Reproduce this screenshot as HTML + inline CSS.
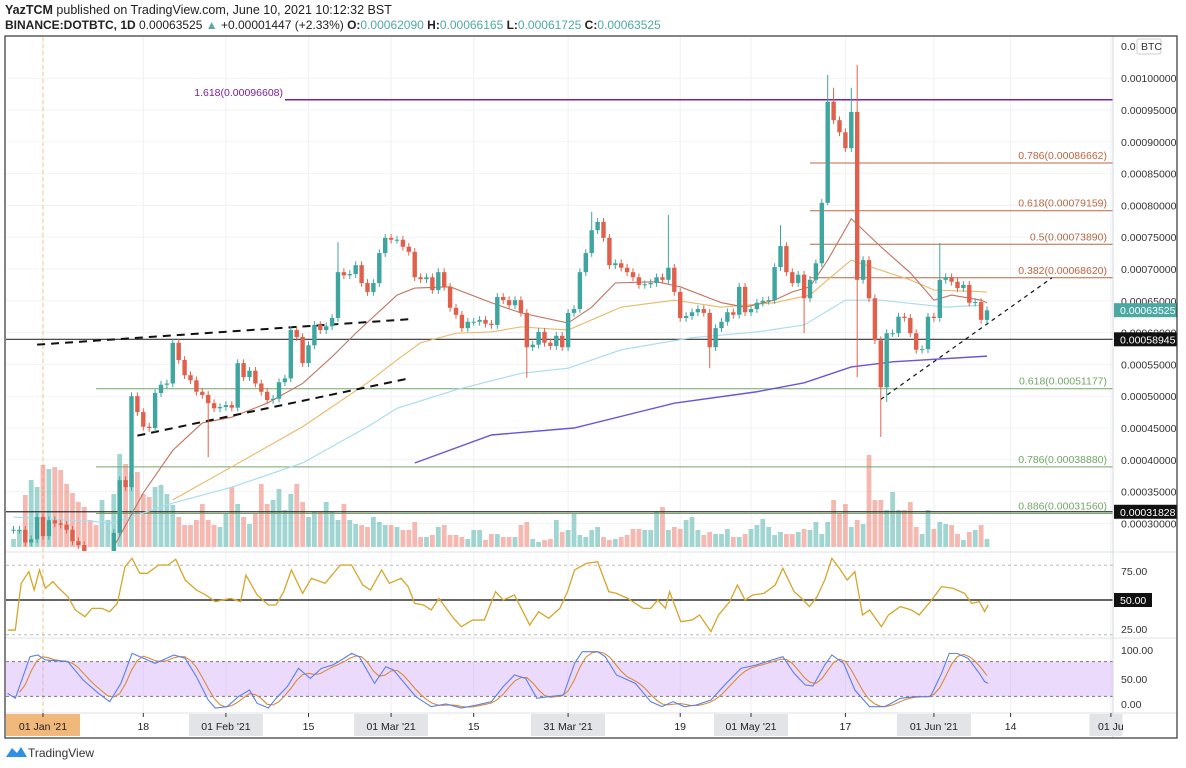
<!DOCTYPE html>
<html><head><meta charset="utf-8"><style>
html,body{margin:0;padding:0;background:#fff;width:1186px;height:768px;overflow:hidden}
svg{display:block;font-family:"Liberation Sans",sans-serif}
</style></head><body>
<svg id="c" width="1186" height="768" viewBox="0 0 1186 768">
<text x="5" y="14" font-size="12.5" fill="#222"><tspan font-weight="bold">YazTCM</tspan> published on TradingView.com, June 10, 2021 10:12:32 BST</text>
<text x="5" y="29" font-size="12" fill="#222"><tspan font-weight="bold">BINANCE:DOTBTC, 1D</tspan> 0.00063525 <tspan fill="#5aa9a4">▲</tspan> +0.00001447 (+2.33%) <tspan font-weight="bold">O:</tspan><tspan fill="#4fa9a3">0.00062090</tspan> <tspan font-weight="bold">H:</tspan><tspan fill="#4fa9a3">0.00066165</tspan> <tspan font-weight="bold">L:</tspan><tspan fill="#4fa9a3">0.00061725</tspan> <tspan font-weight="bold">C:</tspan><tspan fill="#4fa9a3">0.00063525</tspan></text>
<g id="grid"></g>
<g id="price"></g>
<g id="rsi"></g>
<g id="stoch"></g>
<g id="axes"></g>
<rect x="5" y="36" width="1172" height="702" fill="none" stroke="#333" stroke-width="1.2"/>
<g><path d="M6 757 L12 748 L17 753 L21 747 L27 757 Z" fill="#2f8fe6"/><text x="28" y="757" font-size="12" fill="#333">TradingView</text></g>
</svg>
<script>
// ===== DATA =====
// daily closes in units of 1e-5 BTC, first day = 27 Dec 2020 (day -5)
const firstDay = -5;
const closes = [29,29,27,27.5,31,28,30.5,30,29.8,29,27.2,26.6,24,23,22,23,25,
28.5,36.8,35.7,50,47.5,45.2,45,50.5,51.8,52,58.4,55.7,53.3,52.5,50.7,50.2,48.9,48.1,48.3,48.6,48.2,55.2,53,54,52,50.7,49.4,49.6,52.2,52.8,60.4,59.3,55.2,58,61.2,60.4,61,62.3,69.5,69,69.2,70.6,67.8,66.4,67.8,72.5,74.9,
74.6,74.6,73.5,72.7,68.7,68.4,68.7,66.7,69.5,67.2,63.9,62.8,60.7,61.7,61.7,62.0,61.4,61.2,65.6,65.1,64.3,65.1,63.1,57.7,58.1,60.1,58.4,57.9,59.5,57.7,63.1,63.7,69.5,72.5,76.1,77.4,74.9,70.6,70.9,70.2,69.5,68.7,67.5,67.6,67.8,68.7,68.3,70.2,66.4,62.3,62.6,63.2,63.7,63.1,57.7,60.7,61.7,63.2,62.8,67.2,63.2,63.7,64.7,65.0,65.1,70.3,73.6,69.5,67.8,69.1,65.4,
68.3,70.9,80.4,96.3,93.4,91.5,89.0,94.7,68.3,71.4,65.4,58.8,51.4,59.9,59.9,62.5,62.3,59.9,57.3,57.4,62.5,62.3,68.3,68.7,68.0,67.0,67.5,64.7,64.8,62.0,63.5];
const volumes = [8,17,52,67,60,82,78,80,77,63,54,45,40,27,22,47,27,53,93,83,73,75,53,50,60,62,53,42,30,22,22,27,43,27,22,20,33,60,43,30,23,33,63,43,47,58,37,53,63,45,30,35,35,45,35,27,43,27,23,22,20,30,25,22,
22,20,17,17,25,10,10,12,20,22,12,12,10,8,17,17,7,13,13,10,10,10,22,25,8,5,7,8,27,15,17,33,12,10,17,20,10,7,8,10,12,18,18,17,17,35,40,17,20,18,27,30,17,12,15,13,13,18,10,10,13,18,22,28,20,12,15,13,13,15,18,
17,25,13,25,47,33,43,20,27,23,92,47,47,37,55,37,37,45,20,13,37,18,25,23,22,13,7,15,17,22,8];
const wickDays = [133,134,137,138,142,143,152,93,106,82,113,28,50,125,129];
const wickHighs = [100.5,98.5,98.5,102.1,null,null,74.1,79,78.5,null,null,null,74.2,76.9,null];
const wickLows  = [80,null,null,53,43.6,49.1,null,null,null,52.9,54.4,40.4,null,null,59.9];
// moving averages [day, value 1e-5 BTC]
const emaFastDays = [12,17,22,27,32,38,44,49,53,60,63,69,76,81,89,93,97,104,108,115,119,124,127,130,133,137,142,147,151,154,159,160];
const emaFastVals = [26.3,34.8,41.5,45.8,46.7,48.9,52.0,56.2,59.9,65.9,67.0,67.2,64.7,63.1,61.5,64.0,67.8,68.0,67.2,64.7,64.0,65.1,66.4,67.2,71.4,77.9,73.5,69.4,65.1,65.9,65.1,64.7];
const emaMidDays = [22,32,44,55,60,64,70,76,81,89,98,107,115,124,130,133,137,142,147,151,160];
const emaMidVals = [33.7,38.9,45.2,52.1,55.7,58.4,59.9,60.1,60.9,60.4,64.0,65.1,64.0,64.7,65.9,68.3,71.4,69.8,68.3,66.7,66.4];
const emaSlowDays = [-5,12,22,32,44,55,60,70,81,89,98,110,121,129,136,142,153,159];
const emaSlowVals = [31.0,30.1,33.2,35.7,39.5,45.2,48.1,51.0,53.6,54.4,57.3,59.2,60.1,61.2,65.1,65.1,64.0,64.3];
const ma200Days = [63,76,90,107,121,129,137,144,160];
const ma200Vals = [39.5,43.9,45.0,48.9,50.7,52.1,54.6,55.4,56.3];
// RSI
const rsiDays = [-6,-4.7,-3.7,-2.4,-1.5,-0.6,0.4,1.7,2.7,4.2,5.5,7.1,8.3,10,11.3,12.6,13.9,15.1,16.4,17.7,19.6,21.2,22.5,24.1,26,27.6,29.2,30.5,31.8,33.5,34.4,36.3,38.2,39.5,40.8,42.1,44,45.5,47.8,50.4,52.3,54.2,55.5,57.4,58.7,60.7,61.9,63,64.5,65.8,67.1,69.6,70.9,72.8,74.8,76.7,78,79.9,81.2,82.5,84,85.7,87.6,88.9,90.1,92.1,94,95.9,97.2,99.1,101.7,103,104.2,105.5,106.2,108.1,110,111.3,113.2,114.5,116.4,117.7,119,120.3,122.2,124.1,125.4,127.3,128.6,129.9,131.2,132.5,133.7,135,136.3,137.6,138.9,140.1,142.1,143.3,145.3,147.2,148.5,150.4,152.3,154.2,156.2,157.4,158.7,159.6,160.2];
const rsiVals = [24.1,24.1,64.4,74.4,58.6,75.9,60.1,65.8,60.1,52.9,41.4,35.6,42.8,42.8,39.9,47.1,78.7,85.9,73,73,80.2,80.2,85.1,67.2,58.6,54.3,48.6,50,51.4,48.6,71.5,54.3,45.7,45.7,57.2,75.9,55.7,68.7,64.4,80.2,80.2,62.9,58.6,75.9,64.4,68.7,61.5,47.1,45.7,41.4,51.4,34.2,27,32.7,32.7,57.2,50,54.3,41.4,28.4,39.9,34.2,42.8,57.2,75.9,81.6,83,57.2,55.7,51.4,42.8,42.8,50,42.8,57.2,31.3,32.7,37.1,22.7,37.1,48.6,62.9,50,54.3,55.7,62.9,77.3,57.2,51.4,44.3,52.9,67.2,85.9,77.3,67.2,74.4,37.1,41.4,27,37.1,44.3,41.4,37.1,48.6,61.5,60.1,55.7,47.1,48.6,40,45.7];
// Stoch RSI %K
const kDays = [-6,-4.7,-2.2,-0.9,0.4,4.2,6.8,9.4,11.3,13.2,15.1,17.1,19,22.2,24.1,26,28,29.2,31.2,33.1,35,36.3,38.2,39.5,41.4,43.3,45.3,47.2,49.1,51,52.3,53.6,56.2,58.1,59.4,61.3,63.2,65.8,68.3,70.9,73.5,76,78,79.9,81.8,83.7,85.7,88.2,90.1,91.4,94,95.3,97.2,100.4,103,104.9,106.8,108.7,110.7,113.2,115.8,118.3,120.9,123.5,125.4,127.3,129.2,130.5,132.5,133.7,135.7,137.6,140.1,142.7,145.3,147.8,150.4,152.3,153.6,154.9,156.8,158.7,159.6,160.2];
const kVals = [25.3,16.7,88.5,91.4,82.8,79.9,48.3,25.3,10.9,42.5,94.2,85.6,77,91.4,85.6,54,13.8,0,2.3,19.5,31,8,0,16.7,36.8,68.4,51.1,68.4,74.1,85.6,94.2,88.5,42.5,71.2,65.5,42.5,19.5,2.3,6.9,0,5.2,10.9,36.8,56.9,51.1,16.7,19.5,22.4,77,97.1,97.1,88.5,56.9,42.5,10.9,2.3,10.9,2.3,5.2,13.8,42.5,68.4,74.1,82.8,88.5,59.8,39.6,38,74.1,91.4,77,31,2.3,2.3,16.7,19.5,19.5,59.8,94.2,94.2,85.6,59.8,45.4,42.5];
const priceTicks = [100,95,90,85,80,75,70,65,60,55,50,45,40,35,30];
const timeTickDays = [0,17,31,45,59,73,89,108,120,136,151,164,181];
const timeTickLabels = ["01 Jan '21","18","01 Feb '21","15","01 Mar '21","15","31 Mar '21","19","01 May '21","17","01 Jun '21","14","01 Ju"];
const timeTickBoxed = [2,0,1,0,1,0,1,0,1,0,1,0,1];
const fibPrice = [96.608,86.662,79.159,73.890,68.620,51.177,38.880,31.560];
const fibLabel = ["1.618(0.00096608)","0.786(0.00086662)","0.618(0.00079159)","0.5(0.00073890)","0.382(0.00068620)","0.618(0.00051177)","0.786(0.00038880)","0.886(0.00031560)"];
const fibStartDay = [41,130,130,130,130,9,9,9];
const fibColor = ["#7b1fa2","#c0653f","#c0653f","#b06a45","#c0653f","#73a866","#73a866","#73a866"];
const rsiTicks = [75,50,25];
const stochTicks = [100,50,0];

// ===== AXES =====
const NS="http://www.w3.org/2000/svg";
const plotL=6, plotR=1113;
const X = d => 43 + d*5.9;
const PY = p => 110 + (95 - p)*6.36;
const VY = v => 547 - v;
const RY = v => 600 - (v-50)*1.16;
const SY = v => 708 - v*0.58;
function mk(tag, attrs, parent){const e=document.createElementNS(NS,tag);for(const k in attrs)e.setAttribute(k,attrs[k]);parent.appendChild(e);return e;}
const gGrid=document.getElementById('grid'),gP=document.getElementById('price'),gR=document.getElementById('rsi'),gS=document.getElementById('stoch'),gA=document.getElementById('axes');

// clip path
const defs=mk('defs',{},document.getElementById('c'));
const cp=mk('clipPath',{id:'pclip'},defs);mk('rect',{x:6,y:37,width:1107,height:514},cp);

// grid
timeTickDays.forEach(d=>{const l=mk('line',{x1:X(d),x2:X(d),y1:37,y2:713,stroke:'#eef0f4','stroke-width':1},gGrid);

});
priceTicks.forEach(p=>{const l=mk('line',{x1:plotL,x2:plotR,y1:PY(p),y2:PY(p),stroke:'#f1f3f6'},gGrid);

});
mk('line',{x1:X(0),x2:X(0),y1:37,y2:713,stroke:'#f0c48a','stroke-dasharray':'4,3'},gGrid);

const gPc=mk('g',{'clip-path':'url(#pclip)'},gP);
// volume
volumes.forEach((v,i)=>{const c=closes[i],o=i?closes[i-1]:c;const up=c>=o;
const r=mk('rect',{x:X(firstDay+i)-2.4,y:VY(v),width:4.8,height:v,fill:up?'rgba(84,178,172,0.55)':'rgba(236,128,114,0.55)'},gPc);

});

// fib & horizontal lines
fibPrice.forEach((p,i)=>{const l=mk('line',{x1:X(fibStartDay[i]),x2:plotR,y1:PY(p),y2:PY(p),stroke:fibColor[i],'stroke-width':i==0?1.5:1},gPc);


const t=mk('text',{x:i==0?283:1107,y:PY(p)-4,'font-size':10.5,fill:fibColor[i],'text-anchor':'end'},gP);t.textContent=fibLabel[i];

});
[58.945,31.828].forEach(p=>{const l=mk('line',{x1:plotL,x2:plotR,y1:PY(p),y2:PY(p),stroke:'#333','stroke-width':1.2},gPc);

});

// moving averages
function ma(days,vals,color,w,name){const pts=days.map((d,i)=>X(d)+','+PY(vals[i])).join(' ');
const l=mk('polyline',{points:pts,fill:'none',stroke:color,'stroke-width':w},gPc);

}
ma(emaSlowDays,emaSlowVals,'#a9dcef',1.2,'ema-100-line');
ma(emaMidDays,emaMidVals,'#e8b968',1.1,'ema-50-line');
ma(emaFastDays,emaFastVals,'#c0735e',1.1,'ema-20-line');
ma(ma200Days,ma200Vals,'#6a55d8',1.4,'ma-200-line');

// trendlines (in data coordinates: day, price)
[[[-1,58.1],[62,62.1]],[[16,43.8],[62,52.8]],[[142,49.5],[171,68.6]]].forEach((s,i)=>{
const l=mk('line',{x1:X(s[0][0]),y1:PY(s[0][1]),x2:X(s[1][0]),y2:PY(s[1][1]),stroke:'#111','stroke-width':i<2?2:1.2,'stroke-dasharray':i<2?'8,6':'4,4'},gPc);

});

// candles
closes.forEach((c,i)=>{const d=firstDay+i;const o=i?closes[i-1]:c;const up=c>=o;
const wi=wickDays.indexOf(d);
let hi=Math.max(o,c)+0.6, lo=Math.min(o,c)-0.6;
if(wi>=0){if(wickHighs[wi]!=null)hi=wickHighs[wi];if(wickLows[wi]!=null)lo=wickLows[wi];}
const col=up?'#3ea59f':'#e0604b';
const x=X(d);
const w=mk('line',{x1:x,x2:x,y1:PY(hi),y2:PY(lo),stroke:col,'stroke-width':1},gPc);


const y1=PY(Math.max(o,c)),y2=PY(Math.min(o,c));
const b=mk('rect',{x:x-2.2,y:y1,width:4.4,height:Math.max(1,y2-y1),fill:col},gPc);

});

// pane separators
[552,638,713].forEach(y=>mk('line',{x1:5,x2:1177,y1:y,y2:y,stroke:'#dde0e6'},gA));
mk('line',{x1:plotR,x2:plotR,y1:36,y2:738,stroke:'#d4d7de'},gA);

// price axis labels
priceTicks.forEach(p=>{if(p>=100)return;const t=mk('text',{x:1121,y:PY(p)+4,'font-size':10.5,fill:'#333'},gA);t.textContent='0.000'+String(p*1000).padStart(5,'0');

});
{const t=mk('text',{x:1121,y:PY(100)+4,'font-size':10.5,fill:'#333'},gA);t.textContent='0.00100000';


const t2=mk('text',{x:1121,y:50,'font-size':10.5,fill:'#333'},gA);t2.textContent='0.0      000';
mk('rect',{x:1137,y:39,width:24,height:15,rx:2,fill:'#fff',stroke:'#ccc'},gA);
const t3=mk('text',{x:1141,y:50,'font-size':10.5,fill:'#333'},gA);t3.textContent='BTC';

}
[[63.525,'#4aa9a3','0.00063525'],[58.945,'#111','0.00058945'],[31.828,'#111','0.00031828']].forEach(a=>{
const r=mk('rect',{x:1114,y:PY(a[0])-7,width:63,height:14,fill:a[1]},gA);


const t=mk('text',{x:1120,y:PY(a[0])+4,'font-size':10.5,fill:'#fff'},gA);t.textContent=a[2];});

// RSI pane
[80,20].forEach(v=>mk('line',{x1:plotL,x2:plotR,y1:RY(v),y2:RY(v),stroke:'#bbb','stroke-dasharray':'3,3'},gR));
mk('line',{x1:plotL,x2:plotR,y1:RY(50),y2:RY(50),stroke:'#333','stroke-width':1.5},gR);
{const l=mk('polyline',{points:rsiDays.map((d,i)=>X(d)+','+RY(rsiVals[i])).join(' '),fill:'none',stroke:'#d4a62a','stroke-width':1.3},gR);

}
rsiTicks.forEach(v=>{if(v==50){mk('rect',{x:1114,y:RY(50)-7,width:38,height:14,fill:'#111'},gR);const t=mk('text',{x:1120,y:RY(50)+4,'font-size':10.5,fill:'#fff'},gR);t.textContent='50.00';return;}
const t=mk('text',{x:1121,y:RY(v)+4,'font-size':10.5,fill:'#333'},gR);t.textContent=v.toFixed(2);

});

// Stoch RSI pane
mk('rect',{x:plotL,y:SY(80),width:plotR-plotL,height:SY(20)-SY(80),fill:'rgba(200,150,250,0.35)'},gS);
[80,20].forEach(v=>mk('line',{x1:plotL,x2:plotR,y1:SY(v),y2:SY(v),stroke:'#777','stroke-dasharray':'3,3'},gS));
// %D = 3-day SMA of %K on daily grid
function kAt(d){for(let i=1;i<kDays.length;i++){if(d<=kDays[i]){const t=(d-kDays[i-1])/(kDays[i]-kDays[i-1]);return kVals[i-1]+t*(kVals[i]-kVals[i-1]);}}return kVals[kVals.length-1];}
const dPts=[];for(let d=-4;d<=160;d++){dPts.push(X(d)+','+SY((kAt(d)+kAt(d-1)+kAt(d-2))/3));}
{const l=mk('polyline',{points:dPts.join(' '),fill:'none',stroke:'#d98a3a','stroke-width':1.1},gS);


const k=mk('polyline',{points:kDays.map((d,i)=>X(d)+','+SY(kVals[i])).join(' '),fill:'none',stroke:'#5b7fe8','stroke-width':1.1},gS);

}
stochTicks.forEach(v=>{const t=mk('text',{x:1121,y:SY(v)+(v==0?0:4),'font-size':10.5,fill:'#333'},gS);t.textContent=v.toFixed(2);

});

// time axis
timeTickDays.forEach((d,i)=>{const x=X(d);const lab=timeTickLabels[i];const w=lab.length*6.2+12;
if(timeTickBoxed[i]){const r=mk('rect',{x:x-w/2,y:714,width:i==12?w-10:w,height:22,fill:timeTickBoxed[i]==2?'#f0b87a':'#e3e4e8'},gA);

}
mk('line',{x1:x,x2:x,y1:713,y2:717,stroke:'#333'},gA);
const t=mk('text',{x:x,y:730,'font-size':10.5,fill:'#222','text-anchor':'middle'},gA);t.textContent=lab;

});
</script>
</body></html>
